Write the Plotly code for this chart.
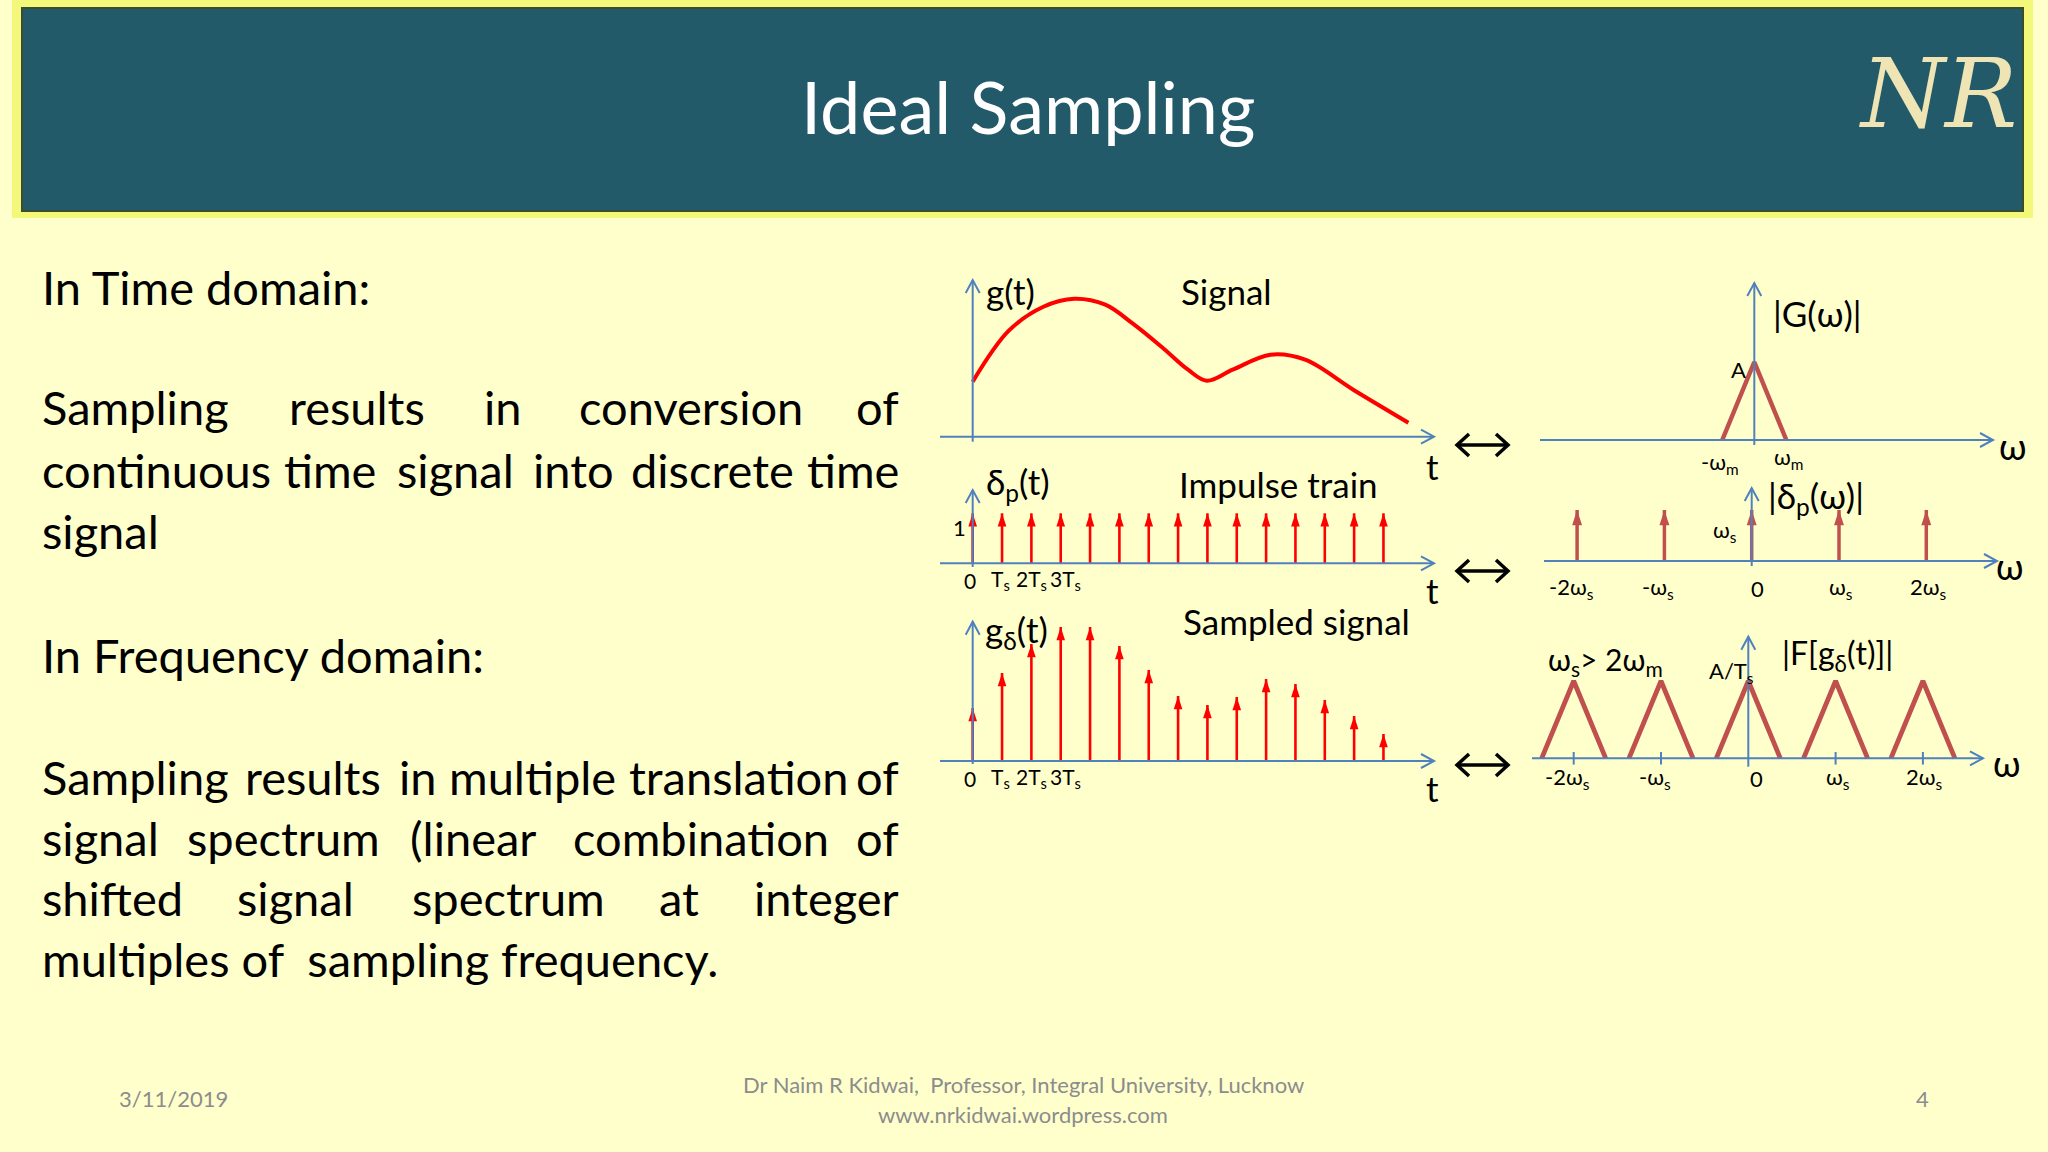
import plotly.graph_objects as go

W, H = 2048, 1152
FONT = "Lato"
BLUE = "#4F81BD"
RED = "#FF0000"
BROWN = "#C0504D"

# ---- values ----
# time axis in units of Ts, amplitude in arbitrary units
SIGNAL_T = [0, 1.23, 2.41, 3.46, 4.52, 5.46, 6.51, 7.34, 7.98, 8.86, 10.15, 11.33, 12.97, 14.85]
SIGNAL_G = [0.55, 1.06, 1.30, 1.38, 1.32, 1.13, 0.88, 0.67, 0.56, 0.67, 0.82, 0.77, 0.47, 0.14]

SAMPLE_N = [0, 1, 2, 3, 4, 5, 6, 7, 8, 9, 10, 11, 12, 13, 14]
IMPULSE_H = [1, 1, 1, 1, 1, 1, 1, 1, 1, 1, 1, 1, 1, 1, 1]
SAMPLED_G = [0.53, 0.88, 1.17, 1.34, 1.34, 1.15, 0.91, 0.65, 0.56, 0.64, 0.82, 0.77, 0.61, 0.45, 0.27]
TIME_TICKS = ["0", "T<sub>s</sub>", "2T<sub>s</sub>", "3T<sub>s</sub>"]

# frequency axis in units of ws
SPEC_W = [-0.367, 0, 0.367]      # |G(w)| triangle, -wm .. wm
SPEC_MAG = [0, 1, 0]             # peak A
COMB_K = [-2, -1, 0, 1, 2]
COMB_MAG = [1, 1, 1, 1, 1]       # weight ws
REPLICA_K = [-2, -1, 0, 1, 2]
REPLICA_MAG = [1, 1, 1, 1, 1]    # peak A/Ts
FREQ_TICKS = ["-2ω<sub>s</sub>", "-ω<sub>s</sub>", "0", "ω<sub>s</sub>", "2ω<sub>s</sub>"]

# panel geometry: origin / scale in pixels, box = (x0, x1, ytop, ybottom)
PANELS = [
    dict(ox=972.7, sx=29.34, oy=436.7, sy=100, box=(930, 1445, 270, 450)),
    dict(ox=972.7, sx=29.34, oy=563.3, sy=50, box=(930, 1445, 480, 575)),
    dict(ox=972.7, sx=29.34, oy=761.0, sy=100, box=(930, 1445, 610, 775)),
    dict(ox=1754.3, sx=87.3, oy=440.0, sy=78, box=(1530, 2005, 275, 455)),
    dict(ox=1751.7, sx=87.3, oy=561.0, sy=51, box=(1530, 2005, 480, 580)),
    dict(ox=1748.3, sx=87.3, oy=758.3, sy=77.3, box=(1520, 2005, 630, 780)),
]


def fx(px):
    return px / W


def fy(py):
    return 1 - py / H


def stems(xs, ys):
    sx, sy = [], []
    for x, y in zip(xs, ys):
        sx += [x, x, None]
        sy += [0, y, None]
    return sx, sy


fig = go.Figure()
layout = {}
for i, p in enumerate(PANELS, start=1):
    x0, x1, yt, yb = p["box"]
    sfx = "" if i == 1 else str(i)
    layout["xaxis" + sfx] = dict(domain=[fx(x0), fx(x1)],
                                 range=[(x0 - p["ox"]) / p["sx"], (x1 - p["ox"]) / p["sx"]],
                                 visible=False, anchor="y" + sfx)
    layout["yaxis" + sfx] = dict(domain=[fy(yb), fy(yt)],
                                 range=[(p["oy"] - yb) / p["sy"], (p["oy"] - yt) / p["sy"]],
                                 visible=False, anchor="x" + sfx)

# 1. continuous signal
fig.add_trace(go.Scatter(x=SIGNAL_T, y=SIGNAL_G, mode="lines", line=dict(color=RED, width=4, shape="spline"),
                         xaxis="x", yaxis="y", cliponaxis=False))

# 2. impulse train
sx_, sy_ = stems(SAMPLE_N, IMPULSE_H)
fig.add_trace(go.Scatter(x=sx_, y=sy_, mode="lines", line=dict(color=RED, width=2.6), xaxis="x2", yaxis="y2"))
fig.add_trace(go.Scatter(x=SAMPLE_N, y=IMPULSE_H, mode="markers", cliponaxis=False,
                         marker=dict(symbol="arrow", angle=0, size=14, color=RED, line_width=0),
                         xaxis="x2", yaxis="y2"))

# 3. sampled signal
sx_, sy_ = stems(SAMPLE_N, SAMPLED_G)
fig.add_trace(go.Scatter(x=sx_, y=sy_, mode="lines", line=dict(color=RED, width=2.6), xaxis="x3", yaxis="y3"))
fig.add_trace(go.Scatter(x=SAMPLE_N, y=SAMPLED_G, mode="markers", cliponaxis=False,
                         marker=dict(symbol="arrow", angle=0, size=14, color=RED, line_width=0),
                         xaxis="x3", yaxis="y3"))

# 4. |G(w)|
fig.add_trace(go.Scatter(x=SPEC_W, y=SPEC_MAG, mode="lines", line=dict(color=BROWN, width=4.5),
                         xaxis="x4", yaxis="y4", cliponaxis=False))

# 5. |delta_p(w)|
sx_, sy_ = stems(COMB_K, COMB_MAG)
fig.add_trace(go.Scatter(x=sx_, y=sy_, mode="lines", line=dict(color=BROWN, width=3.5), xaxis="x5", yaxis="y5"))
fig.add_trace(go.Scatter(x=COMB_K, y=COMB_MAG, mode="markers", cliponaxis=False,
                         marker=dict(symbol="arrow", angle=0, size=16, color=BROWN, line_width=0),
                         xaxis="x5", yaxis="y5"))

# 6. spectrum of sampled signal: shifted copies of |G(w)|
rx, ry = [], []
for k, m in zip(REPLICA_K, REPLICA_MAG):
    rx += [k + w for w in SPEC_W] + [None]
    ry += [v * m for v in SPEC_MAG] + [None]
fig.add_trace(go.Scatter(x=rx, y=ry, mode="lines", line=dict(color=BROWN, width=4.8),
                         xaxis="x6", yaxis="y6", cliponaxis=False))
fig.add_trace(go.Scatter(x=[k for k in REPLICA_K if k != 0], y=[0, 0, 0, 0], mode="markers",
                         marker=dict(symbol="line-ns", size=9, line=dict(color=BLUE, width=2)),
                         xaxis="x6", yaxis="y6", cliponaxis=False))

# ---- shapes: slide banner and drawn axes ----
shapes = [
    dict(type="rect", xref="paper", yref="paper", x0=fx(12), x1=fx(2033), y0=fy(218), y1=fy(0),
         fillcolor="#F3F77A", line_width=0, layer="below"),
    dict(type="rect", xref="paper", yref="paper", x0=fx(22), x1=fx(2023), y0=fy(211), y1=fy(8),
         fillcolor="#225A6A", line=dict(color="#3C4A2E", width=2), layer="below"),
]


def seg(x0, y0, x1, y1, color=BLUE, width=2):
    return dict(type="line", xref="paper", yref="paper", x0=fx(x0), y0=fy(y0), x1=fx(x1), y1=fy(y1),
                line=dict(color=color, width=width))


def chevron(pts, color=BLUE, width=2):
    path = "M " + " L ".join(f"{fx(a):.5f},{fy(b):.5f}" for a, b in pts)
    return dict(type="path", xref="paper", yref="paper", path=path, line=dict(color=color, width=width))


def axes(p, xl, xr, yb, yt):
    ox, oy = p["ox"], p["oy"]
    return [seg(xl, oy, xr, oy), chevron([(xr - 13, oy - 7), (xr, oy), (xr - 13, oy + 7)]),
            seg(ox, yb, ox, yt), chevron([(ox - 7, yt + 13), (ox, yt), (ox + 7, yt + 13)])]


shapes += axes(PANELS[0], 940, 1434, 441.7, 280)
shapes += axes(PANELS[1], 940, 1434, 567, 490)
shapes += axes(PANELS[2], 940, 1434, 764, 621.7)
shapes += axes(PANELS[3], 1540, 1993, 445, 283)
shapes += axes(PANELS[4], 1544, 1997, 566, 488)
shapes += axes(PANELS[5], 1532, 1983, 766.7, 636.7)

# double-headed arrows between time and frequency domain
for yy in [445, 571, 765]:
    shapes.append(seg(1457, yy, 1508, yy, "black", 3.5))
    shapes.append(chevron([(1469, yy - 11), (1457, yy), (1469, yy + 11)], "black", 3.5))
    shapes.append(chevron([(1496, yy - 11), (1508, yy), (1496, yy + 11)], "black", 3.5))

# ---- text ----
ann = []


def txt(x, y, text, size, xa="center", color="black", family=FONT, style="normal"):
    ann.append(dict(x=fx(x), y=fy(y), xref="paper", yref="paper", text=text, showarrow=False,
                    xanchor=xa, yanchor="middle",
                    font=dict(family=family, size=size, color=color, style=style)))


def dtxt(ax, x, y, text, size, yshift=0, xshift=0):
    ann.append(dict(x=x, y=y, xref=ax, yref=ax.replace("x", "y"), text=text, showarrow=False,
                    xanchor="center", yanchor="middle", yshift=yshift, xshift=xshift,
                    font=dict(family=FONT, size=size, color="black")))


txt(1028, 106, "Ideal Sampling", 72, color="white")
txt(1938, 94, "NR", 96, color="#EFE4B4", family="DejaVu Serif", style="italic")

BODY = 47
K = 0.38


def line(baseline, text):
    txt(40, baseline - K * BODY, text, BODY, xa="left")


def justified(baseline, words, lefts):
    # words placed at left edges spread over the text column, last word flush right
    n = len(words)
    for j, (w, l) in enumerate(zip(words, lefts)):
        if j == n - 1:
            txt(901, baseline - K * BODY, w, BODY, xa="right")
        else:
            txt(l, baseline - K * BODY, w, BODY, xa="left")


line(305, "In Time domain:")
justified(425, ["Sampling", "results", "in", "conversion", "of"], [40, 287, 482, 577, 855])
justified(488, ["continuous", "time", "signal", "into", "discrete", "time"], [40, 282, 395, 531, 629, 801])
line(549, "signal")
line(673, "In Frequency domain:")
justified(795, ["Sampling", "results", "in", "multiple", "translation", "of"], [40, 243, 397, 447, 627, 852])
justified(856, ["signal", "spectrum", "(linear", "combination", "of"], [40, 185, 408, 571, 855])
justified(916, ["shifted", "signal", "spectrum", "at", "integer"], [40, 235, 410, 657, 758])
line(977, "multiples of  sampling frequency.")

# diagram labels
txt(984, 291, "g(t)", 35, xa="left")
txt(1226, 291, "Signal", 35)
txt(1432, 466, "t", 35)
txt(984, 484, "δ<sub>p</sub>(t)", 35, xa="left")
txt(1278, 484, "Impulse train", 35)
txt(959, 527, "1", 22)
txt(1432, 590, "t", 35)
txt(983, 631, "g<sub>δ</sub>(t)", 35, xa="left")
txt(1296, 621, "Sampled signal", 35)
txt(1432, 788, "t", 35)
for ax in ["x2", "x3"]:
    for k, (lab, dx) in enumerate(zip(TIME_TICKS, [-3, -2, 0, 5])):
        dtxt(ax, k, 0, lab, 21, yshift=-17, xshift=dx)

txt(1817, 313, "|G(ω)|", 35)
txt(1738, 369, "A", 22)
txt(2013, 446, "ω", 36)
txt(1720, 463, "-ω<sub>m</sub>", 22)
txt(1788, 458, "ω<sub>m</sub>", 22)

txt(1816, 497, "|δ<sub>p</sub>(ω)|", 35)
txt(1725, 531, "ω<sub>s</sub>", 22)
txt(2010, 566, "ω", 36)
for k, lab in zip(COMB_K, FREQ_TICKS):
    dtxt("x5", k, 0, lab, 22, yshift=-27, xshift=-6 if k < 0 else (6 if k == 0 else 2))

txt(1605, 661, "ω<sub>s</sub>> 2ω<sub>m</sub>", 30)
txt(1731, 672, "A/T<sub>s</sub>", 22)
txt(1837, 655, "|F[g<sub>δ</sub>(t)]|", 32)
txt(2007, 763, "ω", 36)
for k, lab in zip(REPLICA_K, FREQ_TICKS):
    dtxt("x6", k, 0, lab, 22, yshift=-20, xshift=-6 if k < 0 else (8 if k == 0 else 2))

# footer
GREY = "#8C8C8C"
txt(173, 1098, "3/11/2019", 22, color=GREY)
txt(1023, 1084, "Dr Naim R Kidwai,  Professor, Integral University, Lucknow", 22, color=GREY)
txt(1023, 1114, "www.nrkidwai.wordpress.com", 22, color=GREY)
txt(1922, 1098, "4", 22, color=GREY)

fig.update_layout(
    width=W, height=H,
    margin=dict(l=0, r=0, t=0, b=0),
    paper_bgcolor="#FFFFCC",
    plot_bgcolor="rgba(0,0,0,0)",
    showlegend=False,
    shapes=shapes,
    annotations=ann,
    **layout,
)

# page default body margin would push the slide 8px off the window
fig.write_html("out.html", config={"displayModeBar": False},
               post_script="document.body.style.margin='0';")
